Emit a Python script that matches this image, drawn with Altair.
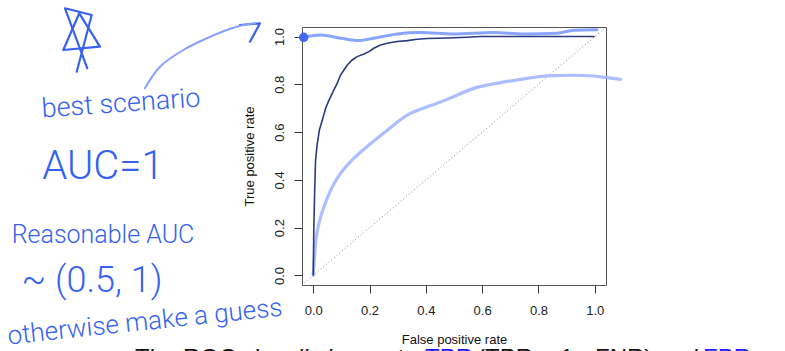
import altair as alt
import pandas as pd

# ---------------- data ----------------
# ROC curve of the fitted model (dark line)
roc_fpr = [0.0, 0.002, 0.005, 0.008, 0.014, 0.022, 0.032, 0.044, 0.056, 0.073, 0.085,
           0.097, 0.109, 0.121, 0.138, 0.156, 0.180, 0.198, 0.215, 0.239, 0.263,
           0.298, 0.334, 0.369, 0.405, 0.476, 0.547, 0.594, 1.0]
roc_tpr = [0.0, 0.20, 0.35, 0.48, 0.55, 0.61, 0.65, 0.70, 0.734, 0.776, 0.804,
           0.839, 0.860, 0.881, 0.902, 0.916, 0.927, 0.937, 0.951, 0.965, 0.972,
           0.979, 0.983, 0.989, 0.992, 0.994, 0.997, 1.0, 1.0]

# hand-drawn "reasonable" curve (light blue)
ok_fpr = [0.0, 0.008, 0.02, 0.038, 0.062, 0.097, 0.144, 0.204, 0.263, 0.334, 0.405,
          0.476, 0.570, 0.665, 0.760, 0.831, 0.925, 0.996, 1.044, 1.091]
ok_tpr = [0.0, 0.133, 0.217, 0.287, 0.357, 0.427, 0.490, 0.552, 0.608, 0.671, 0.706,
          0.737, 0.783, 0.807, 0.825, 0.835, 0.838, 0.835, 0.828, 0.821]

# hand-drawn "best scenario" line near TPR = 1
best_fpr = [-0.034, 0.026, 0.097, 0.162, 0.215, 0.298, 0.381, 0.499, 0.641, 0.748,
            0.866, 0.925, 1.008]
best_tpr = [0.997, 1.007, 0.993, 0.983, 0.993, 1.011, 1.017, 1.011, 1.017, 1.011,
            1.014, 1.026, 1.028]

# chance diagonal
diag = [-0.04, 1.04]

tick_vals = [0.0, 0.2, 0.4, 0.6, 0.8, 1.0]

# handwritten notes
notes = ["best scenario", "AUC=1", "Reasonable AUC", "~ (0.5, 1)", "otherwise make a guess"]

# slide caption (mostly cut off at the bottom)
caption = ["The ROC visually inspects ", "TPR", "(TPR = 1 - FNR) and ", "FPR"]

# ---------------- layout helpers ----------------
W, H = 304, 258
PAD_L, PAD_T = 302, 27
DOMAIN = [-0.04, 1.04]


def dx(px):
    return (px - PAD_L) / W * (DOMAIN[1] - DOMAIN[0]) + DOMAIN[0]


def dy(py):
    return DOMAIN[1] - (py - PAD_T) / H * (DOMAIN[1] - DOMAIN[0])


note_pos = [(121, 104, 27, 356), (103, 167, 40, 0), (103, 235, 25, 0),
            (92, 281, 36, 0), (145, 322, 26, 354)]
note_df = pd.DataFrame({
    "x": [dx(p[0]) for p in note_pos],
    "y": [dy(p[1]) for p in note_pos],
    "s": [p[2] for p in note_pos],
    "a": [p[3] for p in note_pos],
    "t": notes,
})

cap_x = [135, 425, 477, 703]
cap_col = ["#111111", "#1a1aff", "#111111", "#1a1aff"]
cap_df = pd.DataFrame({
    "x": [dx(v) for v in cap_x],
    "y": [dy(366)] * 4,
    "t": caption,
    "c": cap_col,
})

# hand-drawn star (straight strokes) and arrow (curved stroke)
star_strokes = {
    "a": [(76.7, 71.7), (91.7, 15), (65, 8.3), (87.3, 68.3)],
    "b": [(79.3, 13.3), (63.3, 50), (100, 46.7), (79.3, 13.3)],
    "head": [(240, 25), (260, 23.3), (250, 41.7)],
}
arrow_pts = [(145, 88.3), (160, 66.7), (183.3, 50), (206.7, 38.3), (226.7, 30), (243.3, 25), (255, 23.3)]

rows = []
for k, pts in star_strokes.items():
    for i, (px, py) in enumerate(pts):
        rows.append({"x": dx(px), "y": dy(py), "id": k, "i": i})
star_df = pd.DataFrame(rows)
arrow_df = pd.DataFrame({"x": [dx(p[0]) for p in arrow_pts],
                         "y": [dy(p[1]) for p in arrow_pts],
                         "i": range(len(arrow_pts))})

roc_df = pd.DataFrame({"x": roc_fpr, "y": roc_tpr, "i": range(len(roc_fpr))})
ok_df = pd.DataFrame({"x": ok_fpr, "y": ok_tpr, "i": range(len(ok_fpr))})
best_df = pd.DataFrame({"x": best_fpr, "y": best_tpr, "i": range(len(best_fpr))})
diag_df = pd.DataFrame({"x": diag, "y": diag})
blob_df = pd.DataFrame({"x": [best_fpr[0]], "y": [best_tpr[0]]})

# ---------------- encodings ----------------
FONT = "Liberation Sans"
scale = alt.Scale(domain=DOMAIN, nice=False, zero=False)
x_enc = alt.X("x:Q", scale=scale, title="False positive rate",
              axis=alt.Axis(values=tick_vals, format=".1f", grid=False, domain=False,
                            tickSize=8, tickColor="#333", labelColor="#222",
                            labelFont=FONT, labelFontSize=13, labelPadding=11,
                            titleFont=FONT, titleFontSize=13, titleFontWeight="normal",
                            titleColor="#111", titleY=54, titleBaseline="middle"))
y_enc = alt.Y("y:Q", scale=scale, title="True positive rate",
              axis=alt.Axis(values=tick_vals, format=".1f", grid=False, domain=False,
                            tickSize=8, tickColor="#333", labelColor="#222",
                            labelFont=FONT, labelFontSize=13, labelPadding=8,
                            labelAngle=270, labelAlign="center", labelBaseline="bottom",
                            titleFont=FONT, titleFontSize=13, titleFontWeight="normal",
                            titleColor="#111", titleAngle=270, titleX=-53, titleY=H / 2,
                            titleAlign="center", titleBaseline="middle"))

diag_layer = alt.Chart(diag_df).mark_line(
    color="#777", strokeWidth=0.9, strokeDash=[1, 2.5], clip=False
).encode(x=x_enc, y=y_enc)

ok_layer = alt.Chart(ok_df).mark_line(
    color="#a3b7ff", strokeWidth=3.2, opacity=0.9, clip=False, strokeCap="round",
    interpolate="monotone"
).encode(x=x_enc, y=y_enc, order="i:Q")

best_layer = alt.Chart(best_df).mark_line(
    color="#7d9bff", strokeWidth=3, opacity=0.9, clip=False, strokeCap="round",
    interpolate="monotone"
).encode(x=x_enc, y=y_enc, order="i:Q")

blob_layer = alt.Chart(blob_df).mark_point(
    filled=True, color="#3d63f5", size=90, opacity=0.95, clip=False
).encode(x=x_enc, y=y_enc)

roc_layer = alt.Chart(roc_df).mark_line(
    color="#2b3a7e", strokeWidth=1.6, clip=False
).encode(x=x_enc, y=y_enc, order="i:Q")

star_layer = alt.Chart(star_df).mark_line(
    strokeWidth=2.2, clip=False, strokeCap="round", strokeJoin="round", color="#3a62f0"
).encode(x=x_enc, y=y_enc, detail="id:N", order="i:Q")

arrow_layer = alt.Chart(arrow_df).mark_line(
    strokeWidth=2, clip=False, strokeCap="round", color="#86a0ff", interpolate="cardinal"
).encode(x=x_enc, y=y_enc, order="i:Q")

note_layer = alt.Chart(note_df).mark_text(
    font="Roboto", fontWeight=300, color="#3562f0", align="center", baseline="middle",
    clip=False
).encode(x=x_enc, y=y_enc, text="t:N",
         size=alt.Size("s:Q", scale=None), angle=alt.Angle("a:Q", scale=None))

cap_layer = alt.Chart(cap_df).mark_text(
    font=FONT, fontSize=24, align="left", baseline="alphabetic", clip=False
).encode(x=x_enc, y=y_enc, text="t:N", color=alt.Color("c:N", scale=None))

chart = alt.layer(
    diag_layer, ok_layer, best_layer, blob_layer, roc_layer,
    star_layer, arrow_layer, note_layer, cap_layer
).properties(
    width=W, height=H,
    padding={"left": PAD_L, "top": PAD_T, "right": 785 - PAD_L - W, "bottom": 351 - PAD_T - H},
    autosize=alt.AutoSizeParams(type="none"),
    background="white",
).configure_view(stroke="#555", strokeWidth=1)

chart.save("out.html", embed_options={"renderer": "svg", "actions": False})
